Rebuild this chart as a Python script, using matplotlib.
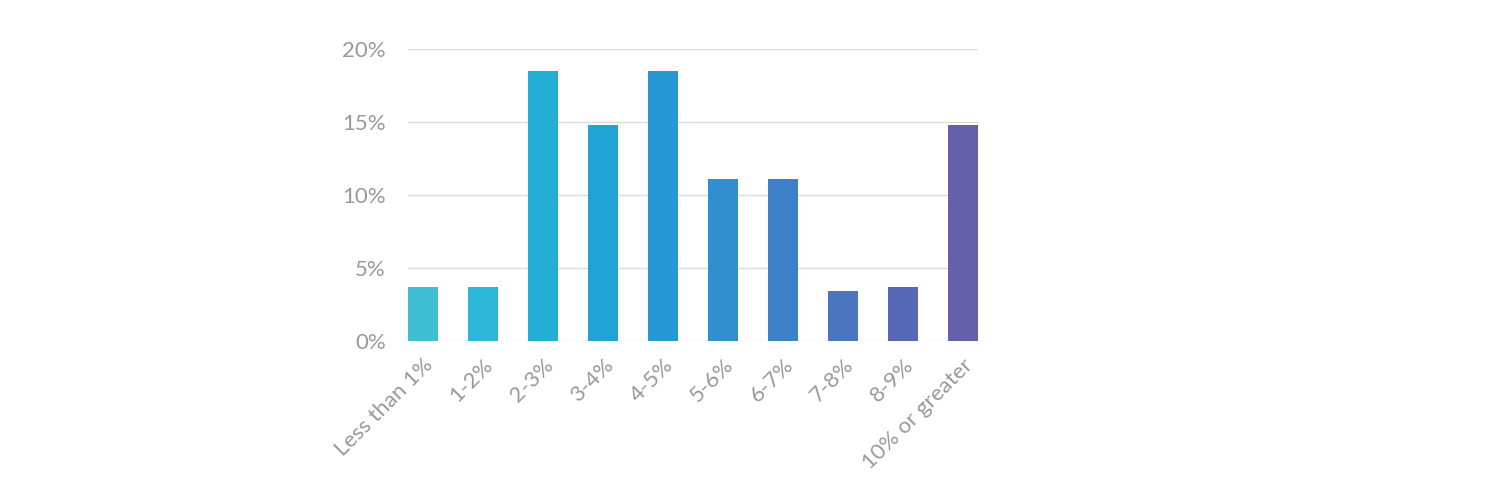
import matplotlib
matplotlib.use("Agg")
import matplotlib.pyplot as plt

categories = ["Less than 1%", "1-2%", "2-3%", "3-4%", "4-5%", "5-6%",
              "6-7%", "7-8%", "8-9%", "10% or greater"]
values = [3.7, 3.7, 18.5, 14.8, 18.5, 11.1, 11.1, 3.4, 3.7, 14.8]
colors = ["#40BFD4", "#2DB7D6", "#23AED6", "#22A3D6", "#2699D4",
          "#318FCF", "#3D82C8", "#4A75BF", "#5769B5", "#6561A8"]
yticks = [0, 5, 10, 15, 20]

plt.rcParams['font.family'] = ['Lato', 'DejaVu Sans']

fig = plt.figure(figsize=(15, 5), dpi=100)
ax = fig.add_axes([0.272, 0.318, 0.38, 0.584])

x = range(len(categories))
ax.bar(x, values, width=0.5, color=colors, zorder=3)

ax.set_xlim(-0.25, len(categories) - 0.75)
ax.set_ylim(0, 20)
ax.set_yticks(yticks)
ax.set_yticklabels([f"{t}%" for t in yticks])
ax.set_xticks(list(x))
ax.set_xticklabels(categories, rotation=45, ha="right", rotation_mode="anchor")

ax.grid(axis="y", color="#dcdcdc", linewidth=1, zorder=0)
for s in ax.spines.values():
    s.set_visible(False)
ax.tick_params(axis="both", length=0, colors="#999999", labelsize=16)
ax.tick_params(axis="y", pad=16)
ax.tick_params(axis="x", pad=10)

fig.savefig("out.png", dpi=100, facecolor="white")
